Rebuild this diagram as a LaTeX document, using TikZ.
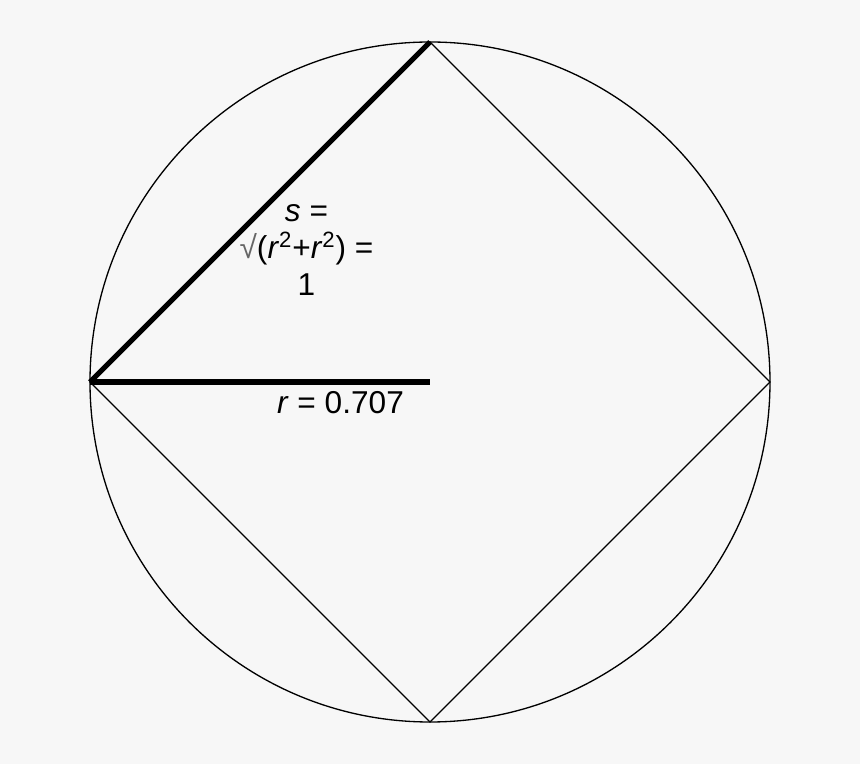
\documentclass[tikz,border=0pt]{standalone}
\usepackage{fontspec}
\setmainfont{Liberation Sans}

\begin{document}
\begin{tikzpicture}[
  x=0.02cm, y=0.02cm,
  thinline/.style={line width=0.75pt, black},
  thickline/.style={line width=3pt, black},
  txt/.style={font=\fontsize{18}{22}\selectfont, inner sep=0pt, anchor=base}
]
%general params
\def\rad{340} %circle radius
\def\tx{-123.5} %text column
\useasboundingbox[fill=black!3] (-430,-382) rectangle (430,382);

%corners
\coordinate (O) at (0,0);
\coordinate (W) at (-\rad,0);
\coordinate (N) at (0,\rad);
\coordinate (E) at (\rad,0);
\coordinate (S) at (0,-\rad);

%circle and square
\draw[thinline] (O) circle (\rad);
\draw[thinline] (W) -- (N) -- (E) -- (S) -- cycle;

%radius and side
\draw[thickline] (W) -- (O);
\draw[thickline] (W) -- (N);

%labels
\node[txt] (sEq)   at (\tx,160) {\textit{s} =};
\node[txt] (sRoot) at (\tx,123) {{\color{black!60}√}(\textit{r}\textsuperscript{2}+\textit{r}\textsuperscript{2}) =};
\node[txt] (sVal)  at (\tx,86) {1};
\node[txt] (rVal)  at (-89.5,-32) {\textit{r} = 0.707};

\end{tikzpicture}
\end{document}
